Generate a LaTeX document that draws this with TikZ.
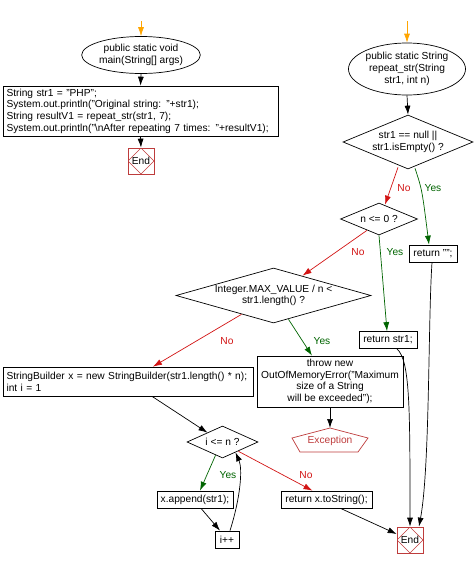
\documentclass[tikz,border=0pt]{standalone}
\usepackage{fontspec}
\setmainfont{Liberation Sans}
\usetikzlibrary{shapes.geometric,arrows.meta,calc}
\definecolor{orng}{RGB}{255,165,0}
\definecolor{nored}{RGB}{210,20,20}
\definecolor{yesgreen}{RGB}{0,100,0}
\definecolor{endred}{RGB}{190,60,60}
\begin{document}
\begin{tikzpicture}[x=1pt,y=-1pt,font=\fontsize{10.2}{11.7}\selectfont,line width=0.7pt,
  arr/.style={-{Latex[length=9pt,width=6pt]},draw=black},
  startarr/.style={-{Latex[length=9pt,width=6pt]},draw=orng},
  noarr/.style={-{Latex[length=9pt,width=6pt]},draw=nored},
  yesarr/.style={-{Latex[length=9pt,width=6pt]},draw=yesgreen},
  nolbl/.style={text=nored,inner sep=1pt},
  yeslbl/.style={text=yesgreen,inner sep=1pt},
  startell/.style={draw,ellipse,inner sep=0pt,align=center},
  decision/.style={draw,diamond,inner sep=0pt,align=center},
  procbox/.style={draw,rectangle,inner xsep=3pt,inner ysep=1pt,minimum height=17pt},
  endbox/.style={draw=endred,rectangle,minimum size=26pt,inner sep=0pt,
    path picture={\draw[endred,line width=0.6pt] (path picture bounding box.north) -- (path picture bounding box.east) -- (path picture bounding box.south) -- (path picture bounding box.west) -- cycle;}}
]
\useasboundingbox (0,0) rectangle (474,565);

% ---------- main ----------
\coordinate (sL) at (141,21);
\node[startell,minimum width=102pt,minimum height=37pt] (ellL) at (141,55) {public static void\\main(String[] args)};
\node[procbox,minimum width=275pt,minimum height=50pt,text width=268pt,align=left,inner xsep=3.5pt] (boxL) at (140.5,111)
 {String str1 = "PHP";\\System.out.println("Original string: "+str1);\\String resultV1 = repeat\_str(str1, 7);\\System.out.println("\textbackslash nAfter repeating 7 times: "+resultV1);};
\node[endbox] (endL) at (141,161) {End};

\draw[startarr] (sL) -- (ellL.north);
\draw[arr] (ellL.south) -- (boxL.north);
\draw[arr] (boxL.south) -- (endL.north);

% ---------- repeat_str ----------
\coordinate (sR) at (407,21);
\node[startell,minimum width=108pt,minimum height=52pt] (ellR) at (407,69) {public static String\\repeat\_str(String\\str1, int n)};
\node[decision,aspect=2.4,minimum width=130pt,minimum height=54pt] (d1) at (408,142) {str1 == null ||\\str1.isEmpty() ?};
\node[decision,aspect=2.4,minimum width=77pt,minimum height=32pt] (d2) at (379,219) {n <= 0 ?};
\node[procbox,minimum width=48pt] (ret1) at (433,253.5) {return "";};
\node[decision,aspect=3.5,minimum width=195pt,minimum height=55pt] (d3) at (273.5,295.5) {Integer.MAX\_VALUE / n <\\str1.length() ?};
\node[procbox,minimum width=58pt] (ret2) at (388,340) {return str1;};
\node[procbox,minimum width=146pt,minimum height=51pt,align=center] (throw) at (330,381.5)
 {throw new\\OutOfMemoryError("Maximum\\size of a String\\will be exceeded");};
\node[text=endred,inner sep=0pt] (exc) at (330,441) {Exception};
\coordinate (exctop) at (330,428);
\draw[endred] (exctop) -- (368,438) -- (358,452) -- (300,452) -- (292,438) -- cycle;
\node[procbox,minimum width=250pt,minimum height=29pt,text width=243pt,align=left,inner xsep=3.5pt] (sb) at (128,381.5)
 {StringBuilder x = new StringBuilder(str1.length() * n);\\int i = 1};
\node[decision,aspect=2.2,minimum width=71pt,minimum height=32pt] (d4) at (222.5,442) {i <= n ?};
\node[procbox,minimum width=76pt] (app) at (195,499.5) {x.append(str1);};
\node[procbox,minimum width=24pt] (inc) at (227,539.5) {i++};
\node[procbox,minimum width=91pt] (rxs) at (326.5,499.5) {return x.toString();};
\node[endbox] (endR) at (410,540) {End};

% labels
\node[nolbl] (lno1) at (404,188) {No};
\node[yeslbl] (lyes1) at (433,188) {Yes};
\node[nolbl] (lno2) at (358,252) {No};
\node[yeslbl] (lyes2) at (395,252) {Yes};
\node[nolbl] (lno3) at (227,341) {No};
\node[yeslbl] (lyes3) at (322,341) {Yes};
\node[yeslbl] (lyes4) at (228,475) {Yes};
\node[nolbl] (lno4) at (306,475) {No};

% connectors
\draw[startarr] (sR) -- (ellR.north);
\draw[arr] (ellR.south) -- (d1.north);
\draw[noarr] ($(d1.south)+(-10,-2)$) -- ($(d2.north)+(6,2)$);
\draw[yesarr] ($(d1.south)+(7,-1)$) .. controls ($(d1.south)+(14,20)$) .. ($(ret1.north)+(-4,0)$);
\draw[noarr] ($(d2.south)+(-12,-5)$) -- ($(d3.north)+(29,8)$);
\draw[yesarr] ($(d2.south)+(0,0)$) -- ($(ret2.north)+(-1,0)$);
\draw[noarr] ($(d3.south)+(-32,-9)$) -- ($(sb.north)+(25,0)$);
\draw[yesarr] ($(d3.south)+(15,-4)$) -- ($(throw.north)+(-18,0)$);
\draw[arr] (throw.south) -- (exctop);
\draw[arr] ($(ret1.south)+(-1,0)$) .. controls ($(ret1.south)+(-5,60)$) and ($(endR.north)+(20,-60)$) .. ($(endR.north)+(9,0)$);
\draw[arr] ($(ret2.south)+(9,0)$) .. controls ($(ret2.south)+(22,12)$) and ($(endR.north)+(0,-120)$) .. (endR.north);
\draw[arr] ($(sb.south)+(24,0)$) -- ($(d4.north)+(-15,7)$);
\draw[yesarr] ($(d4.south)+(-7,-3)$) -- ($(app.north)+(5,0)$);
\draw[arr] ($(app.south)+(6,0)$) -- ($(inc.north)+(-7,0)$);
\draw[arr] ($(inc.north)+(3,0)$) .. controls ($(inc.north)+(14,-35)$) and ($(d4.south)+(20,10)$) .. ($(d4.south)+(13,-6)$);
\draw[noarr] ($(d4.south)+(16,-7)$) -- ($(rxs.north)+(-14,0)$);
\draw[arr] ($(rxs.south)+(14,0)$) -- ($(endR.west)+(0,-6)$);
\end{tikzpicture}
\end{document}
